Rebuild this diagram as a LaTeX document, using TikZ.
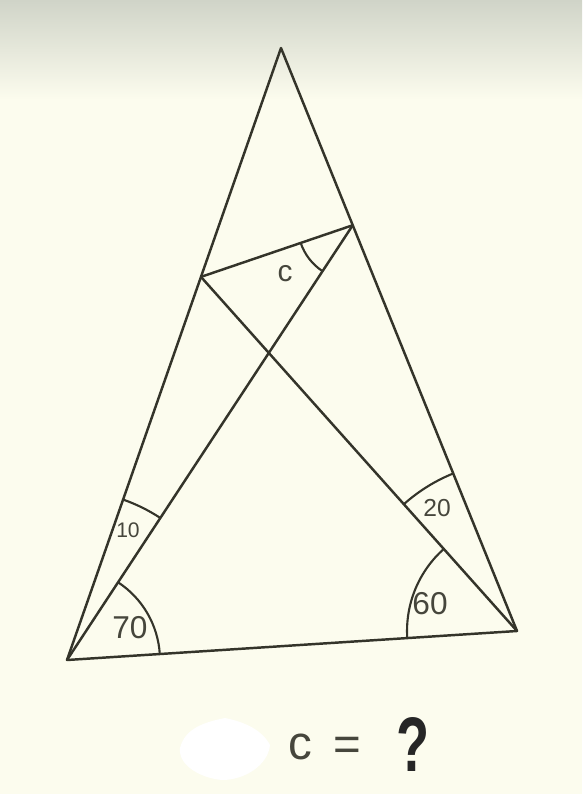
\documentclass[tikz,border=0pt]{standalone}
\usepackage{fontspec}
\setmainfont{Liberation Sans}
\usepackage{xcolor}
\usetikzlibrary{angles, calc}
\definecolor{paper}{RGB}{252,252,238}
\definecolor{haze}{RGB}{208,212,200}
\definecolor{ink}{RGB}{52,52,42}
\definecolor{numink}{RGB}{70,70,60}
\tikzset{
  side/.style={line width=1.4pt, draw=ink, line join=round},
  arcmark/.style={line width=1.2pt, draw=ink},
  num/.style={text=numink, inner sep=0pt}
}

\begin{document}
\begin{tikzpicture}[x=0.02cm, y=-0.02cm]
\fill[paper] (0,0) rectangle (582,794);
\shade[top color=haze, bottom color=paper] (0,0) rectangle (582,100);
\useasboundingbox (0,0) rectangle (582,794);

\coordinate (A) at (281,48);
\coordinate (B) at (67,660);
\coordinate (C) at (517,631);
\coordinate (D) at ($(A)!0.374!(B)$);
\coordinate (E) at ($(A)!0.304!(C)$);

\draw[side] (A) -- (B) -- (C) -- cycle;
\draw[side] (B) -- (E);
\draw[side] (C) -- (D);
\draw[side] (D) -- (E);

\pic[arcmark, angle radius=1.86cm] {angle=C--B--E};
\pic[arcmark, angle radius=3.4cm] {angle=E--B--A};
\pic[arcmark, angle radius=2.2cm] {angle=D--C--B};
\pic[arcmark, angle radius=3.4cm] {angle=A--C--D};
\pic[arcmark, angle radius=1.1cm] {angle=D--E--B};

\node[num, font=\fontsize{12}{12}\selectfont] (ten) at (128,530) {10};
\node[num, font=\fontsize{18}{18}\selectfont] (seventy) at (130,628) {70};
\node[num, font=\fontsize{14}{14}\selectfont] (twenty) at (437,508) {20};
\node[num, font=\fontsize{18}{18}\selectfont] (sixty) at (430,604) {60};
\node[num, font=\fontsize{17}{17}\selectfont] (cmark) at (285,274) {c};

\fill[white] (180,748) .. controls (185,728) and (205,722) .. (225,718)
  .. controls (245,722) and (262,730) .. (270,745)
  .. controls (268,765) and (245,780) .. (222,780)
  .. controls (200,778) and (178,765) .. (180,748) -- cycle;

\node[num, font=\fontsize{27}{27}\selectfont] (cq) at (300,747) {c};
\node[num, font=\fontsize{27}{27}\selectfont] (eq) at (347,749) {=};
\node[text=black!85, inner sep=0pt, xscale=0.7, font=\fontsize{44}{44}\selectfont\bfseries] (qm) at (413,745) {?};
\end{tikzpicture}
\end{document}
